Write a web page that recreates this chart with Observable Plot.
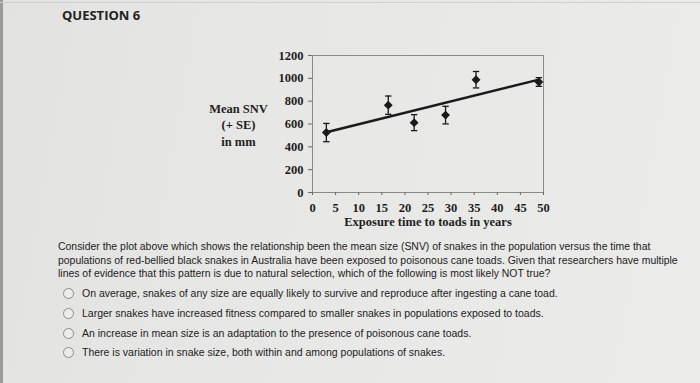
<!DOCTYPE html>
<html><head><meta charset="utf-8">
<script src="https://cdn.jsdelivr.net/npm/d3@7"></script>
<script src="https://cdn.jsdelivr.net/npm/@observablehq/plot@0.6"></script>
<style>
html,body{margin:0;padding:0}
body{width:700px;height:383px;overflow:hidden;position:relative;
  background:linear-gradient(100deg,#e2e2e0 0%,#e7e7e5 40%,#ebebea 100%);
  font-family:"Liberation Sans",Arial,sans-serif;color:#222}
#edge{position:absolute;left:0;top:0;width:3px;height:383px;background:#9a9a98}
#topline{position:absolute;left:0;top:2px;width:700px;height:1px;background:#d0d0ce}
#title{position:absolute;left:62px;top:6px;font-family:"Open Sans",sans-serif;font-weight:700;font-size:13px;color:#222}
#chart{position:absolute;left:190px;top:40px}
#q{position:absolute;left:58px;top:240px;font-size:10.45px;line-height:13.5px;white-space:nowrap}
.opt{position:absolute;left:63px;font-size:10.5px;line-height:13px;white-space:nowrap}
.opt .r{display:inline-block;box-sizing:border-box;width:11px;height:11px;border:1px solid #8c8c8c;border-radius:50%;background:#ececea;vertical-align:-2px;margin-right:8px}
</style></head>
<body>
<div id="edge"></div><div id="topline"></div>
<div id="title">QUESTION 6</div>
<div id="chart"></div>
<div id="q"></div>
<div id="opts"></div>
<script>
// Data
const years = [3, 16.4, 22, 28.8, 35.4, 49];
const meanSNV = [525, 765, 612, 678, 988, 968];
const se = [80, 80, 70, 77, 72, 38];
const yTicks = [0, 200, 400, 600, 800, 1000, 1200];
const xTicks = [0, 5, 10, 15, 20, 25, 30, 35, 40, 45, 50];
const yLabel = "Mean SNV\n(+ SE)\nin mm";
const xLabel = "Exposure time to toads in years";
const questionLines = [
  "Consider the plot above which shows the relationship been the mean size (SNV) of snakes in the population versus the time that",
  "populations of red-bellied black snakes in Australia have been exposed to poisonous cane toads. Given that researchers have multiple",
  "lines of evidence that this pattern is due to natural selection, which of the following is most likely NOT true?"
];
const options = [
  "On average, snakes of any size are equally likely to survive and reproduce after ingesting a cane toad.",
  "Larger snakes have increased fitness compared to smaller snakes in populations exposed to toads.",
  "An increase in mean size is an adaptation to the presence of poisonous cane toads.",
  "There is variation in snake size, both within and among populations of snakes."
];

const data = years.map((x, i) => ({x, y: meanSNV[i], lo: meanSNV[i] - se[i], hi: meanSNV[i] + se[i]}));

const cap = {draw(ctx, size) { const r = Math.sqrt(size / Math.PI); ctx.moveTo(-r, 0); ctx.lineTo(r, 0); }};

const plot = Plot.plot({
  width: 390, height: 200,
  marginLeft: 122, marginRight: 37, marginTop: 15, marginBottom: 48,
  style: {fontFamily: "'Liberation Serif', 'Times New Roman', serif", fontWeight: "bold", fontSize: "12.5px", color: "#1e1e1e", background: "transparent"},
  x: {domain: [0, 50], ticks: xTicks, label: null},
  y: {domain: [0, 1200], ticks: yTicks, label: null},
  marks: [
    Plot.frame({stroke: "#8a8a8a", strokeWidth: 1}),
    Plot.axisY({ticks: yTicks, tickFormat: d => String(d), tickSize: 4, tickPadding: 5, stroke: "#666", label: null}),
    Plot.axisX({ticks: xTicks, tickFormat: d => String(d), tickSize: 3, tickPadding: 8, stroke: "#666", label: null}),
    Plot.text([xLabel], {frameAnchor: "bottom", dy: 33, fill: "#1e1e1e"}),
    Plot.text([yLabel], {frameAnchor: "left", dx: -74, textAnchor: "middle", lineHeight: 1.35, fill: "#1e1e1e"}),
    Plot.linearRegressionY(data, {x: "x", y: "y", ci: 0, stroke: "#1a1a1a", strokeWidth: 2.5}),
    Plot.ruleX(data, {x: "x", y1: "lo", y2: "hi", stroke: "#1a1a1a", strokeWidth: 1.3}),
    Plot.dot(data, {x: "x", y: "hi", symbol: cap, r: 3.2, stroke: "#1a1a1a", strokeWidth: 1.3}),
    Plot.dot(data, {x: "x", y: "lo", symbol: cap, r: 3.2, stroke: "#1a1a1a", strokeWidth: 1.3}),
    Plot.dot(data, {x: "x", y: "y", symbol: "diamond2", r: 4, fill: "#1a1a1a", stroke: "none"})
  ]
});
document.getElementById("chart").appendChild(plot);

document.getElementById("q").innerHTML = questionLines.map(l => `<div>${l}</div>`).join("");
const tops = [287, 307, 327, 346];
document.getElementById("opts").innerHTML = options.map((o, i) =>
  `<div class="opt" style="top:${tops[i]}px"><span class="r"></span>${o}</div>`).join("");
</script>
</body></html>
